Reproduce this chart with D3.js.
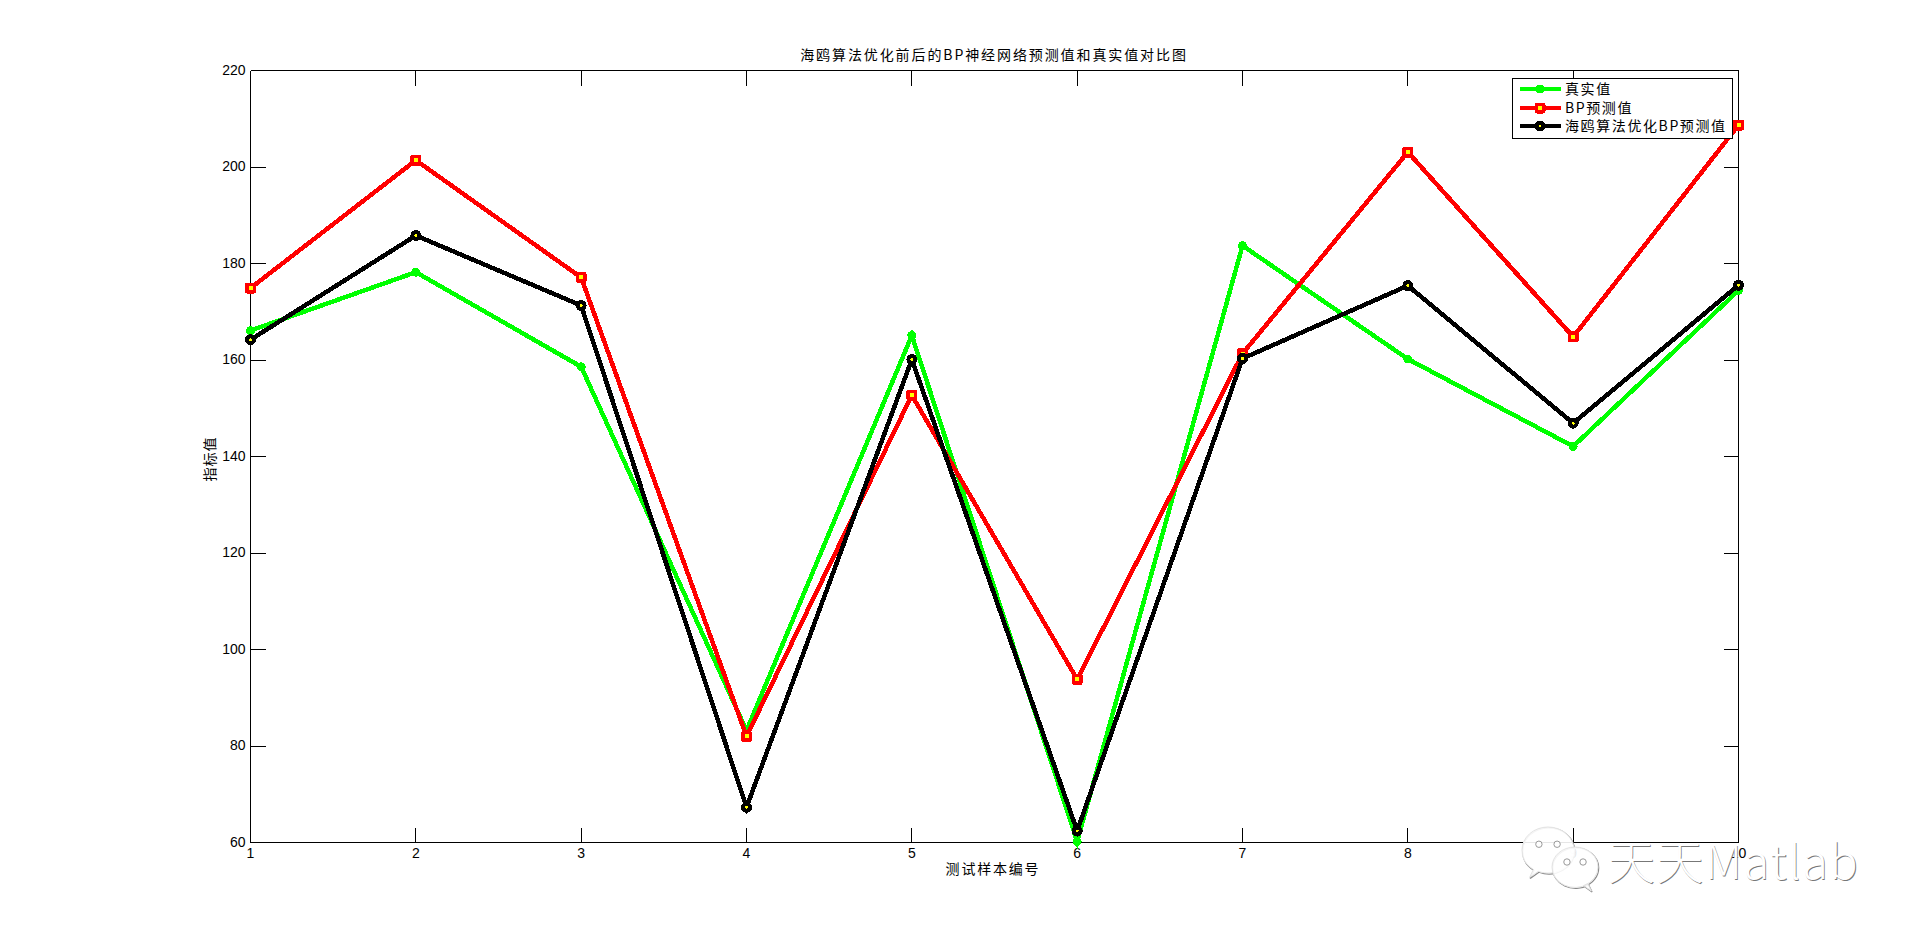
<!DOCTYPE html>
<html><head><meta charset="utf-8">
<script src="https://cdn.jsdelivr.net/npm/d3@7"></script>
<style>
html,body{margin:0;padding:0;background:#fff;overflow:hidden}
svg{display:block}
text{font-family:"Liberation Sans","Noto Sans CJK SC",sans-serif;fill:#000}
.cjk{font-family:"Noto Sans CJK SC","Liberation Sans",sans-serif;font-weight:400}
</style></head><body>
<svg id="c" width="1921" height="946"></svg>
<script>
const categories=[1,2,3,4,5,6,7,8,9,10];
const trueValues=[166.1,178.2,158.6,83.2,165.1,60.2,183.7,160.2,142.1,174.4];
const bpValues=[174.9,201.4,177.1,82,152.7,93.8,161.3,203.1,164.8,208.7];
const optimizedValues=[164.2,185.8,171.3,67.3,160.1,62.4,160.3,175.4,146.9,175.5];
const yTicks=[60,80,100,120,140,160,180,200,220];
const seriesNames=["真实值","BP预测值","海鸥算法优化BP预测值"];
const seriesColors=["#00ff00","#ff0000","#000000"];
const titleText="海鸥算法优化前后的BP神经网络预测值和真实值对比图";
const xLabelText="测试样本编号";
const yLabelText="指标值";
const watermarkText="天天Matlab";

const L=250.5,R=1738.5,T=70.5,B=842.5;
const svg=d3.select("#c");
const x=d3.scaleLinear().domain([1,10]).range([L,R]);
const y=d3.scaleLinear().domain([60,220]).range([B,T]);
const tickFont='"Liberation Sans Narrow","Liberation Sans"';

function styleAxis(g){
  g.selectAll("path,line").attr("stroke","#000").attr("stroke-width",1).attr("shape-rendering","crispEdges");
  g.selectAll("text").attr("font-size",14).attr("fill","#000").attr("font-family",tickFont);
}
const gx=svg.append("g").attr("transform",`translate(0,${B})`)
  .call(d3.axisBottom(x).offset(0).tickValues(categories).tickSizeInner(-15).tickSizeOuter(0).tickPadding(5).tickFormat(d3.format("d")));
gx.call(styleAxis);
gx.selectAll("text").attr("dy","0.71em").attr("y",6);
const gy=svg.append("g").attr("transform",`translate(${L},0)`)
  .call(d3.axisLeft(y).offset(0).tickValues(yTicks).tickSizeInner(-15).tickSizeOuter(0).tickPadding(5));
gy.call(styleAxis);
svg.append("g").attr("transform",`translate(0,${T})`)
  .call(d3.axisTop(x).offset(0).tickValues(categories).tickSizeInner(-15).tickSizeOuter(0).tickFormat(""))
  .call(styleAxis);
svg.append("g").attr("transform",`translate(${R},0)`)
  .call(d3.axisRight(y).offset(0).tickValues(yTicks).tickSizeInner(-15).tickSizeOuter(0).tickFormat(""))
  .call(styleAxis);

const line=d3.line().x((d,i)=>x(categories[i])).y(d=>y(d));
function marker(sel,kind,color,px,py){
  if(kind===0){
    sel.append("circle").attr("cx",px).attr("cy",py).attr("r",4.5).attr("fill",color).attr("shape-rendering","crispEdges");
  }else if(kind===1){
    sel.append("rect").attr("x",px-3.75).attr("y",py-3.75).attr("width",7.5).attr("height",7.5).attr("rx",0.8)
      .attr("fill","#ffff00").attr("stroke",color).attr("stroke-width",3.5).attr("shape-rendering","crispEdges");
  }else{
    sel.append("circle").attr("cx",px).attr("cy",py).attr("r",3.5).attr("fill","#ffff00")
      .attr("stroke",color).attr("stroke-width",4).attr("shape-rendering","crispEdges");
  }
}
[trueValues,bpValues,optimizedValues].forEach((vals,k)=>{
  const g=svg.append("g");
  g.append("path").attr("d",line(vals)).attr("fill","none").attr("stroke",seriesColors[k])
    .attr("stroke-width",4.5).attr("stroke-linejoin","miter").attr("shape-rendering","crispEdges");
  vals.forEach((v,i)=>marker(g,k,seriesColors[k],x(categories[i]),y(v)));
});

// legend
const lg=svg.append("g");
lg.append("rect").attr("x",1512.5).attr("y",78.5).attr("width",220).attr("height",60)
  .attr("fill","#fff").attr("stroke","#000").attr("shape-rendering","crispEdges");
const legendY=[89,108,126];
seriesNames.forEach((n,k)=>{
  lg.append("line").attr("x1",1520).attr("x2",1561).attr("y1",legendY[k]).attr("y2",legendY[k])
    .attr("stroke",seriesColors[k]).attr("stroke-width",4).attr("shape-rendering","crispEdges");
  marker(lg,k,seriesColors[k],1540,legendY[k]);
  lg.append("text").attr("class","cjk").attr("x",1565).attr("y",legendY[k]).attr("dy","0.36em")
    .attr("font-size",14).attr("letter-spacing",1.6).text(n);
});

// titles
svg.append("text").attr("class","cjk").attr("x",994).attr("y",55).attr("dy","0.36em")
  .attr("text-anchor","middle").attr("font-size",14).attr("letter-spacing",1.9).text(titleText);
svg.append("text").attr("class","cjk").attr("x",993).attr("y",869).attr("dy","0.36em")
  .attr("text-anchor","middle").attr("font-size",14).attr("letter-spacing",1.8).text(xLabelText);
svg.append("text").attr("class","cjk").attr("transform","translate(210,459) rotate(-90)").attr("dy","0.36em")
  .attr("text-anchor","middle").attr("font-size",14).attr("letter-spacing",1).text(yLabelText);

// watermark
const wm=svg.append("g");
function bubble(g,cx,cy,rx,ry,tail){
  const p=g.append("g");
  const d=`M${cx-rx},${cy}A${rx},${ry} 0 1 1 ${cx+rx},${cy}A${rx},${ry} 0 0 1 ${cx+tail*rx*0.5},${cy+ry*0.93}L${cx+tail*rx*0.95},${cy+ry*1.2}L${cx+tail*rx*0.75},${cy+ry*0.85}A${rx},${ry} 0 0 1 ${cx-rx},${cy}Z`;
  p.append("path").attr("d",d).attr("transform","translate(0.7,0.9)").attr("fill","none").attr("stroke","#8a8a8a").attr("stroke-width",1.2);
  p.append("path").attr("d",d).attr("fill","#fff").attr("fill-opacity",0.9).attr("stroke","#e4e4e4").attr("stroke-width",1);
  [-0.35,0.35].forEach(s=>{
    p.append("circle").attr("cx",cx+s*rx).attr("cy",cy-ry*0.25).attr("r",3.2).attr("fill","#fff").attr("stroke","#999").attr("stroke-width",1);
  });
}
bubble(wm,1548,850,26,23,-0.75);
bubble(wm,1575,867,23,20,0.75);
const wmStyle="font-family:'Noto Sans CJK SC','Liberation Sans';font-weight:300;letter-spacing:1.5px;";
wm.append("text").attr("x",1608).attr("y",879).attr("font-size",47)
  .attr("transform","translate(0.8,0.8)").attr("style","fill:#777;"+wmStyle).text(watermarkText);
wm.append("text").attr("x",1608).attr("y",879).attr("font-size",47)
  .attr("style","fill:#fff;"+wmStyle).text(watermarkText);
</script>
</body></html>
